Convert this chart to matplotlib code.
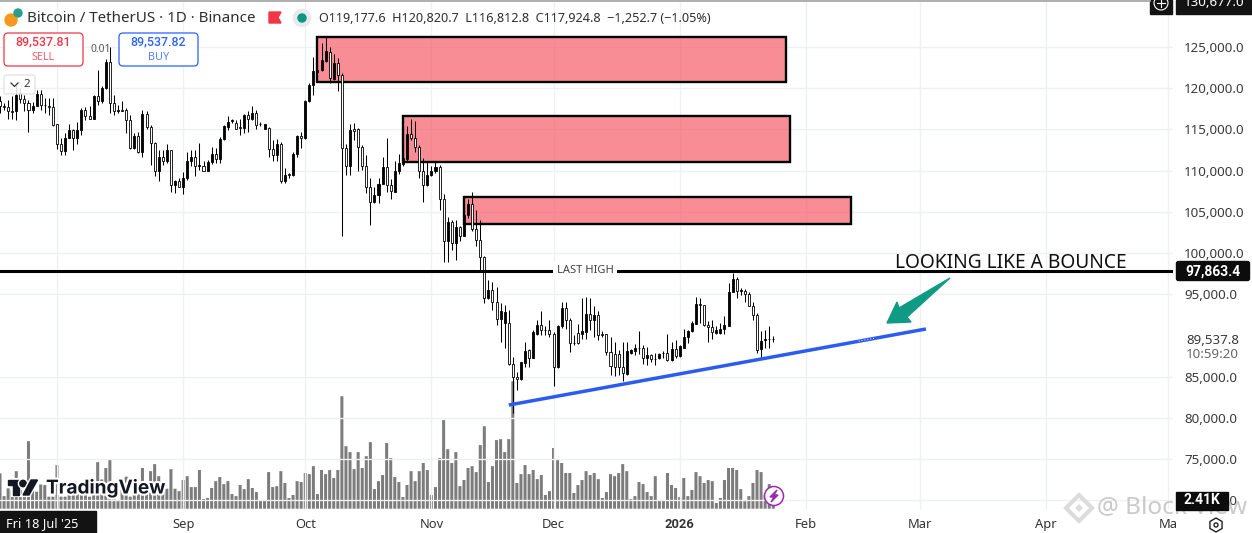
import matplotlib
matplotlib.use("Agg")
import matplotlib.pyplot as plt
import matplotlib.patheffects as pe
from matplotlib.patches import Rectangle, Circle, Polygon, FancyBboxPatch, RegularPolygon
import numpy as np
import pandas as pd

plt.rcParams['font.family'] = ['Noto Sans', 'DejaVu Sans']

# ---- daily candles, thousands of USDT, from 18 Jul 2025 ----
opens = [118.4,117.8,117.7,117.2,117.2,119.4,118.7,118.2,117.4,117.8,
         119.3,117.9,117.8,117.7,115.6,113.2,112.4,114.0,114.9,114.0,
         114.9,117.3,116.6,116.3,119.1,118.5,120.0,123.2,118.2,117.2,
         117.3,117.4,116.1,112.7,114.2,112.3,116.9,115.3,113.3,110.0,
         111.6,111.1,112.5,108.2,108.7,108.0,109.1,111.1,111.6,110.6,
         110.6,110.0,111.0,112.0,111.4,113.8,115.3,116.0,115.8,115.3,
         115.2,116.8,116.3,117.0,115.7,115.1,115.2,112.6,111.9,113.2,
         108.7,109.6,109.5,112.0,114.2,113.9,118.4,120.4,122.0,122.2,
         123.3,124.4,121.1,123.1,121.6,112.7,110.5,115.0,115.0,112.9,
         110.6,108.0,106.2,107.0,108.4,110.4,108.2,107.4,109.9,110.8,
         111.4,114.4,114.0,112.8,109.9,108.2,109.4,109.9,110.4,106.5,
         101.4,103.7,101.2,103.2,102.1,104.6,105.9,102.9,101.6,99.5,
         94.5,95.5,94.1,92.0,91.5,91.5,86.5,85.0,84.7,86.7,
         88.2,87.2,90.2,91.3,90.7,90.7,90.2,86.1,91.1,93.3,
         91.9,89.1,90.3,90.2,90.4,92.6,91.9,92.5,90.2,90.2,
         88.0,87.7,87.7,86.1,85.3,87.9,88.1,88.5,88.5,87.3,
         87.6,87.1,87.2,87.9,87.8,87.0,88.3,87.5,88.5,89.8,
         90.5,91.4,93.8,93.7,91.3,91.0,90.3,90.3,90.8,91.1,
         95.3,96.8,95.4,95.4,95.0,93.6,92.5,88.3,89.4,89.5,
         89.5]
highs = [119.0,118.2,118.6,119.0,120.4,120.0,119.2,118.6,118.3,119.8,
         119.8,118.8,118.8,118.8,115.7,113.9,114.6,115.7,115.1,115.9,
         117.6,117.7,117.8,119.2,122.2,120.3,123.5,125.0,119.2,118.0,
         118.4,117.6,116.8,114.6,114.7,117.3,117.2,115.5,113.5,112.5,
         112.5,113.2,112.5,108.9,109.1,109.8,112.3,112.5,112.5,113.3,
         111.1,111.3,112.9,112.7,114.1,115.5,116.6,116.3,116.1,116.3,
         116.9,117.2,117.8,117.4,115.9,115.7,115.3,113.7,113.8,113.5,
         110.3,109.7,112.3,114.3,114.7,118.6,120.6,123.8,122.4,125.5,
         126.2,125.0,124.2,123.6,121.8,113.2,115.7,115.8,115.2,113.1,
         111.9,109.1,108.0,109.1,111.7,113.9,109.0,111.2,112.0,112.9,
         115.4,116.2,116.0,113.1,111.5,111.0,110.5,111.0,110.7,107.2,
         104.4,104.0,104.0,103.3,105.0,106.5,107.4,105.2,104.0,99.6,
         96.7,96.5,95.9,93.9,93.7,93.1,87.4,85.6,86.8,89.2,
         88.4,90.6,91.9,93.0,91.1,91.9,90.4,91.3,94.1,94.1,
         92.1,90.0,91.4,94.5,94.6,94.5,93.5,92.9,90.5,90.2,
         89.8,89.2,88.2,89.2,89.2,88.4,89.0,90.5,88.8,88.6,
         87.7,87.8,87.8,88.1,90.2,89.2,89.4,88.8,90.8,90.6,
         91.8,94.7,94.5,93.7,91.7,91.9,91.1,91.5,92.3,96.4,
         97.6,97.1,95.7,95.6,95.3,94.1,92.7,90.5,90.6,91.1,
         89.9]
lows = [117.0,117.4,116.3,116.3,116.1,118.2,117.2,114.7,117.0,117.8,
        117.4,117.0,116.8,115.4,112.6,111.9,111.9,113.9,112.5,113.2,
        114.3,116.1,116.2,116.3,118.0,118.2,119.9,117.0,116.8,117.0,
        117.2,114.5,112.6,112.6,112.1,111.7,115.1,110.7,109.3,108.7,
        110.7,110.9,107.4,107.3,108.0,107.2,108.9,110.6,109.3,110.1,
        109.9,110.0,110.8,110.9,110.9,113.7,114.9,115.8,115.0,114.3,
        114.6,114.7,116.1,115.1,115.4,115.1,111.6,111.1,111.1,108.5,
        108.5,109.1,109.3,111.7,112.7,113.8,118.3,119.2,122.0,122.1,
        123.2,120.6,121.0,119.6,102.0,109.5,109.5,113.7,109.9,110.1,
        107.3,103.4,106.1,106.1,108.4,107.4,106.5,107.4,109.6,110.6,
        111.1,113.7,112.2,109.1,106.2,108.1,109.3,109.7,105.2,98.9,
        98.9,100.3,99.1,101.4,102.0,104.2,102.7,100.8,97.8,93.9,
        94.4,93.1,91.3,89.2,88.5,86.4,80.6,83.4,84.6,86.2,
        86.1,87.2,90.0,90.0,90.1,89.8,83.8,86.0,90.9,90.8,
        88.0,88.8,89.0,89.5,89.5,90.7,89.8,89.4,89.8,87.6,
        85.2,85.1,85.2,84.4,85.2,87.7,87.6,87.7,86.5,86.4,
        86.8,86.4,87.1,87.3,86.9,86.9,87.3,87.4,88.5,89.1,
        90.4,91.4,91.5,91.1,89.2,89.6,90.2,90.2,90.2,91.1,
        95.2,94.5,94.9,94.1,93.5,91.9,87.8,87.1,88.5,88.5,
        89.2]
closes = [117.8,117.7,117.2,117.1,119.2,118.7,118.2,117.4,117.8,119.3,
          117.9,117.9,117.7,115.5,113.2,112.4,114.0,114.9,114.0,114.9,
          117.4,116.6,116.3,119.1,118.5,120.0,123.2,118.2,117.2,117.3,
          117.2,116.1,112.7,114.2,112.3,116.9,115.3,113.3,110.0,111.7,
          111.1,112.5,108.3,108.7,108.0,109.1,111.1,111.6,110.6,110.7,
          110.0,111.0,112.0,111.4,113.8,115.4,115.9,116.1,115.1,115.2,
          116.8,116.3,117.0,115.5,115.6,115.7,112.6,111.9,113.2,108.7,
          109.5,109.5,112.0,114.2,113.9,118.5,120.4,122.1,122.2,123.4,
          124.5,121.2,123.1,121.6,112.7,110.5,114.9,114.8,112.9,110.6,
          108.0,106.2,107.0,108.4,110.4,108.2,107.5,109.9,110.9,111.5,
          114.4,114.0,112.8,109.9,108.2,109.5,109.9,110.4,106.5,101.4,
          103.7,101.2,103.2,102.1,104.6,105.9,102.9,101.6,99.5,94.5,
          95.5,94.1,92.0,92.9,92.8,86.5,85.0,84.7,86.8,88.1,
          87.2,90.4,91.3,90.7,90.7,90.2,86.1,91.1,93.3,91.9,
          89.1,89.1,89.1,90.5,92.6,91.9,92.5,90.0,90.1,88.0,
          86.3,86.2,86.1,85.4,88.1,88.2,88.5,88.5,87.3,87.6,
          87.1,87.1,87.7,87.8,87.0,88.3,87.5,88.7,89.8,90.5,
          91.5,93.8,93.7,91.2,91.0,90.4,90.6,90.8,91.3,95.3,
          96.8,95.4,95.5,95.0,93.6,92.5,88.2,89.3,89.5,89.5,
          89.54]
# volume in thousands of BTC
volumes = [19.1,6.8,11.0,10.1,20.3,10.0,8.3,36.5,10.0,9.2,
           13.1,12.8,6.5,6.5,23.6,6.5,6.5,10.0,8.3,10.0,
           10.0,8.3,6.5,8.3,25.2,15.8,22.0,26.8,6.5,4.7,
           15.5,17.3,6.5,10.0,10.0,22.0,11.9,20.3,24.1,17.6,
           10.0,10.8,21.4,10.8,9.5,15.5,17.6,11.7,11.7,20.9,
           5.2,5.8,11.2,14.9,17.1,13.3,14.9,7.9,6.8,12.8,
           10.6,16.0,11.2,9.0,4.7,4.7,19.8,11.7,12.2,20.3,
           13.9,5.8,7.4,14.9,14.4,19.3,18.7,23.0,7.9,20.9,
           18.7,20.9,16.6,20.9,60.8,33.8,30.6,21.4,30.6,22.0,
           28.4,36.0,10.6,14.9,18.2,35.5,27.4,17.1,14.4,6.3,
           12.8,20.3,14.9,20.3,24.7,20.9,7.4,11.7,27.4,47.9,
           32.2,24.7,30.6,12.2,15.5,22.0,23.0,19.8,34.4,44.6,
           14.4,23.0,37.1,37.6,30.6,37.6,68.9,13.9,18.7,23.6,
           18.7,20.9,16.0,18.2,7.4,9.5,32.8,26.8,24.7,19.3,
           19.3,8.5,12.8,15.5,20.3,18.2,19.3,16.0,5.8,9.0,
           18.7,17.6,19.3,24.1,20.3,5.2,6.8,14.4,13.3,9.0,
           6.8,17.6,4.7,4.7,19.3,12.8,11.2,6.3,16.6,6.8,
           10.1,19.8,17.6,13.9,15.5,14.9,3.1,5.8,15.5,22.0,
           22.0,20.9,10.6,4.1,6.8,13.9,20.9,19.8,7.4,13.3,
           2.41]

# supply zones: first day, last day, low, high
zone_start = ['2025-10-04', '2025-10-25', '2025-11-09']
zone_end = ['2026-01-27', '2026-01-28', '2026-02-12']
zone_low = [120.75, 111.0, 103.5]
zone_high = [126.2, 116.6, 106.8]

last_high = 97.8634
last_price = 89.5378
trend_dates = ['2025-11-20', '2026-03-02']
trend_prices = [81.54, 90.77]

price_ticks = [125, 120, 115, 110, 105, 100, 95, 85, 80, 75, 70]
month_labels = ['Sep', 'Oct', 'Nov', 'Dec', '2026', 'Feb', 'Mar', 'Apr', 'Ma']
month_dates = ['2025-09-01', '2025-10-01', '2025-11-01', '2025-12-01', '2026-01-01',
               '2026-02-01', '2026-03-01', '2026-04-01', '2026-05-01']

W, H = 1252, 533
START = pd.Timestamp('2025-07-18')


def day(d):
    return (pd.Timestamp(d) - START).days


fig = plt.figure(figsize=(W / 100, H / 100), dpi=100, facecolor='white')
plot_w = 1173
plot_h = 510
rect = [0, (H - plot_h) / H, plot_w / W, plot_h / H]

# volume pane sits under the price pane
ax_vol = fig.add_axes(rect, zorder=1)
ax = fig.add_axes(rect, zorder=2)
ax.patch.set_alpha(0)
x_days = np.arange(len(closes))
PX = 4.07
ax.set_xlim(0, plot_w / PX)
ax.set_ylim(68.8, 130.7)
ax_vol.set_xlim(0, plot_w / PX)
ax_vol.set_ylim(-0.7, 275)
ax_vol.axis('off')
# snap off, otherwise the bars round to uneven widths
vol_bars = ax_vol.bar(x_days, volumes, width=0.74, color='#7c7c7c', linewidth=0)
for b in vol_bars:
    b.set_snap(False)

ax.set_yticks(price_ticks)
ax.set_yticklabels([f"{v * 1000:,.1f}" for v in price_ticks], ha='left')
ax.yaxis.tick_right()
ax.tick_params(axis='y', length=0, pad=8, labelsize=9.6, labelcolor='#3a3a3a')
ax.set_xticks([day(d) for d in month_dates])
ax.set_xticklabels(month_labels)
ax.tick_params(axis='x', length=0, pad=6, labelsize=9.3, labelcolor='#333333')
ax.get_xticklabels()[4].set_fontweight('bold')
ax.get_xticklabels()[4].set_family('Roboto')
for s in ax.spines.values():
    s.set_visible(False)
ax.set_xticks([day('2025-08-01')], minor=True)
ax.tick_params(axis='x', which='minor', length=0)
ax.grid(True, which='both', color='#eef0f4', linewidth=1)
ax.set_axisbelow(True)

# zones
for s, e, lo, hi in zip(zone_start, zone_end, zone_low, zone_high):
    ax.add_patch(Rectangle((day(s), lo), day(e) - day(s), hi - lo, facecolor='#f7505e', alpha=0.65,
                           edgecolor='none', zorder=2))
    ax.add_patch(Rectangle((day(s), lo), day(e) - day(s), hi - lo, fill=False,
                           edgecolor='black', linewidth=1.7, zorder=2.1))

# candles, black closes up here and white closes down
ax.vlines(x_days, lows, highs, color='black', linewidth=0.75, zorder=3)
body_bottom = np.minimum(opens, closes)
body_height = np.abs(np.array(closes) - np.array(opens))
colors = ['black' if c >= o else 'white' for o, c in zip(opens, closes)]
ax.bar(x_days, body_height, bottom=body_bottom, width=0.5, color=colors,
       edgecolor='black', linewidth=0.6, zorder=4)

# last high line
ax.axhline(last_high, color='black', linewidth=2.2, zorder=5)
ax.text(585 / PX, last_high, 'LAST HIGH', fontsize=8.0, color='#444444', ha='center',
        va='center', zorder=6, bbox=dict(facecolor='white', edgecolor='none', pad=2.5))

# trend line
ax.plot([day(d) + 0.5 if i else day(d) for i, d in enumerate(trend_dates)], trend_prices, color='#2b5bf0',
        linewidth=2.5, solid_capstyle='butt', zorder=6)
ax.plot([211, 215], [89.3, 89.66], color='white', linewidth=0.7, linestyle=(0, (1, 2)), zorder=7)

# everything else is screen furniture, laid out in pixels
ov = fig.add_axes([0, 0, 1, 1], zorder=5)
ov.set_xlim(0, W)
ov.set_ylim(H, 0)
ov.axis('off')
ov.patch.set_alpha(0)

ov.plot([0, 1150], [1.2, 1.2], color='#a8a8a8', linewidth=1.3)

# header
ov.add_patch(Circle((11, 20), 6, color='#f39a1e'))
ov.add_patch(Circle((18, 13), 4, color='#2a9d8f'))
ov.text(27, 18, 'Bitcoin / TetherUS · 1D · Binance', fontsize=10.9, color='#2e2e2e', va='center')
ov.add_patch(Polygon([(269, 12), (281, 12), (278, 17.5), (281, 23), (269, 23)], color='#f23645'))
ov.add_patch(Circle((302, 18), 8.5, color='#e6e9ee'))
ov.add_patch(Circle((302, 18), 4, color='#089981'))
ov.text(319, 18, 'O119,177.6  H120,820.7  L116,812.8  C117,924.8  −1,252.7 (−1.05%)', fontsize=9.1,
        color='#2e2e2e', va='center')

# sell / buy buttons
for x0, col, price, word in [(4, '#f23645', '89,537.81', 'SELL'), (119, '#2962ff', '89,537.82', 'BUY')]:
    ov.add_patch(FancyBboxPatch((x0 + 3, 36), 73, 27, boxstyle='round,pad=3,rounding_size=4',
                                facecolor='white', edgecolor=col, linewidth=0.9))
    ov.text(x0 + 39.5, 42, price, fontsize=8.9, color=col, ha='center', va='center', family='Roboto',
            fontweight='medium')
    ov.text(x0 + 39.5, 57, word, fontsize=7.8, color=col, ha='center', va='center', alpha=0.8)
ov.text(101, 49.5, '0.01', fontsize=7.4, color='#555555', ha='center', va='center')
ov.add_patch(FancyBboxPatch((6, 77), 27, 15, boxstyle='round,pad=2,rounding_size=2',
                            facecolor='white', alpha=0.85, edgecolor='#dddddd', linewidth=0.9))
ov.plot([11, 14.5, 18], [83, 86.5, 83], color='#333333', linewidth=0.9)
ov.text(27, 84.5, '2', fontsize=8.4, color='#333333', ha='center', va='center')

# price scale tags
ov.add_patch(Rectangle((1150, 0), 22, 13.5, color='#131313'))
ov.add_patch(Circle((1161, 3), 7, facecolor='none', edgecolor='white', linewidth=0.8))
ov.plot([1161, 1161], [0, 7], color='white', linewidth=0.8)
ov.plot([1157, 1165], [3, 3], color='white', linewidth=0.8)
ov.add_patch(Rectangle((1176, 0), 76, 13.5, color='#131313'))
ov.text(1214, 3, '130,677.0', fontsize=9.6, color='white', ha='center', va='center')
ov.add_patch(FancyBboxPatch((1178, 263), 70, 16, boxstyle='round,pad=1.5,rounding_size=2', color='#0c0c0c'))
ov.text(1213, 271.5, f"{last_high * 1000:,.1f}", fontsize=10, color='white', ha='center', va='center',
        family='Roboto', fontweight='bold')
ov.text(1186, 340, f"{last_price * 1000:,.1f}", fontsize=9.6, color='#3a3a3a', va='center')
ov.text(1186, 355, '10:59:20', fontsize=9.6, color='#666666', va='center')

# annotation and arrow
ov.text(895, 262.5, 'LOOKING LIKE A BOUNCE', fontsize=13.8, color='#111111', va='center')
ov.add_patch(Polygon([(950, 278), (907, 317), (911, 322), (887, 323), (897, 302), (899, 308)],
                     color='#0f9a84', zorder=8))

# bottom strip
ov.add_patch(Rectangle((0, 511), 96, 22, color='#131313'))
ov.text(6, 524, "Fri 18 Jul '25", fontsize=9.2, color='white', va='center')
ov.add_patch(RegularPolygon((1216, 525), 6, radius=7, facecolor='white', edgecolor='#222222', linewidth=1))
ov.add_patch(Circle((1216, 525), 2, facecolor='white', edgecolor='#222222', linewidth=1))

# TradingView mark
halo = [pe.withStroke(linewidth=3, foreground='white')]
ov.text(46, 488, 'TradingView', fontsize=13.7, fontweight='bold', color='#131722', va='center',
        path_effects=halo, family='Inter', zorder=9)
ov.add_patch(Polygon([(8, 480), (18.5, 480), (18.5, 495), (13, 495), (13, 485), (8, 485)], color='#131722',
                     zorder=9, path_effects=halo))
ov.add_patch(Circle((23, 483.5), 3.2, color='#131722', zorder=9, path_effects=halo))
ov.add_patch(Polygon([(31, 480), (37.5, 480), (29, 495), (23, 495)], color='#131722', zorder=9,
                     path_effects=halo))

# purple bolt
ov.add_patch(Circle((774, 496), 9.5, facecolor='white', edgecolor='#9c27b0', linewidth=1.1, zorder=9))
ov.add_patch(Polygon([(777, 490), (770, 497), (774, 497), (771, 502), (778, 495), (774, 495)], color='#9c27b0',
                     zorder=10))

# Block View watermark, the volume tag stays readable through it
ov.add_patch(RegularPolygon((1079, 508), 4, radius=13, facecolor='none', edgecolor='#dcdcdc', linewidth=3,
                            zorder=11))
ov.add_patch(RegularPolygon((1079, 508), 4, radius=4, facecolor='#dcdcdc', edgecolor='none', zorder=11))
ov.text(1097, 507, '@ Block View', fontsize=17.5, color='#bdbdbd', va='center', alpha=0.8, zorder=11)
ov.add_patch(Rectangle((1176, 492), 52, 18, color='#0c0c0c', zorder=12))
ov.text(1202, 500, '2.41K', fontsize=10, color='white', ha='center', va='center', family='Roboto',
        fontweight='bold', zorder=13)

fig.savefig('out.png', dpi=100)
